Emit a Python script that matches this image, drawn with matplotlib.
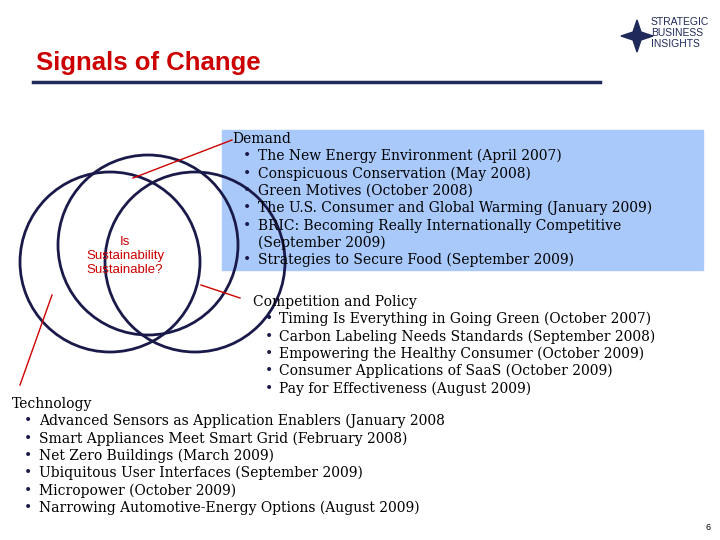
import matplotlib
matplotlib.use("Agg")
import matplotlib.pyplot as plt
from matplotlib.patches import Circle, Rectangle, Polygon

title = "Signals of Change"
center_text = "Is\nSustainability\nSustainable?"
demand_head = "Demand"
demand_items = ["The New Energy Environment (April 2007)",
                "Conspicuous Conservation (May 2008)",
                "Green Motives (October 2008)",
                "The U.S. Consumer and Global Warming (January 2009)",
                "BRIC: Becoming Really Internationally Competitive\n(September 2009)",
                "Strategies to Secure Food (September 2009)"]
comp_head = "Competition and Policy"
comp_items = ["Timing Is Everything in Going Green (October 2007)",
              "Carbon Labeling Needs Standards (September 2008)",
              "Empowering the Healthy Consumer (October 2009)",
              "Consumer Applications of SaaS (October 2009)",
              "Pay for Effectiveness (August 2009)"]
tech_head = "Technology"
tech_items = ["Advanced Sensors as Application Enablers (January 2008",
              "Smart Appliances Meet Smart Grid (February 2008)",
              "Net Zero Buildings (March 2009)",
              "Ubiquitous User Interfaces (September 2009)",
              "Micropower (October 2009)",
              "Narrowing Automotive-Energy Options (August 2009)"]

fig = plt.figure(figsize=(7.2, 5.4), dpi=100)
ax = fig.add_axes([0, 0, 1, 1])
ax.set_xlim(0, 720); ax.set_ylim(540, 0); ax.axis("off")

ax.text(36, 63, title, color="#cc0000", fontsize=18.5, fontweight="bold",
        family="Liberation Sans", va="center")
ax.plot([33, 600], [82, 82], color="#1f2a5a", lw=2.5)

# logo
cx, cy = 637, 36
ax.add_patch(Polygon([(cx, cy-16), (cx+4, cy-4), (cx+16, cy), (cx+4, cy+4),
                      (cx, cy+16), (cx-4, cy+4), (cx-16, cy), (cx-4, cy-4)],
                     color="#1f2a5a"))
for i, w in enumerate(["STRATEGIC", "BUSINESS", "INSIGHTS"]):
    ax.text(651, 22 + i*11, w, fontsize=7.5, color="#1f2a5a", va="center",
            family="Liberation Sans")

# box
ax.add_patch(Rectangle((222, 130), 481, 140, color="#a9c9fb", zorder=0))

# circles
for (x, y) in [(148, 245), (110, 262), (195, 262)]:
    ax.add_patch(Circle((x, y), 90, fill=False, ec="#1a1a4a", lw=2))
ax.text(125, 256, center_text, color="#cc0000", fontsize=9.5, ha="center",
        va="center", family="Liberation Sans", linespacing=1.25)

for seg in [((133, 178), (232, 140)), ((201, 285), (240, 298)), ((52, 295), (20, 385))]:
    ax.plot([seg[0][0], seg[1][0]], [seg[0][1], seg[1][1]], color="#cc0000", lw=1)

fs = 10.0
lh = 17.3

def block(x0, y0, head, items, bx, tx):
    ax.text(x0, y0, head, fontsize=fs, family="DejaVu Serif", va="center")
    y = y0 + lh
    for it in items:
        ax.text(bx, y, "•", fontsize=fs, family="DejaVu Serif", va="center", color="#1a1a4a")
        for ln in it.split("\n"):
            ax.text(tx, y, ln, fontsize=fs, family="DejaVu Serif", va="center")
            y += lh

block(232, 139, demand_head, demand_items, 243, 258)
block(253, 302, comp_head, comp_items, 265, 279)
block(12, 404, tech_head, tech_items, 24, 39)

ax.text(706, 527, "6", fontsize=6.5, family="Liberation Sans", va="center")

fig.savefig("out.png", dpi=100)
